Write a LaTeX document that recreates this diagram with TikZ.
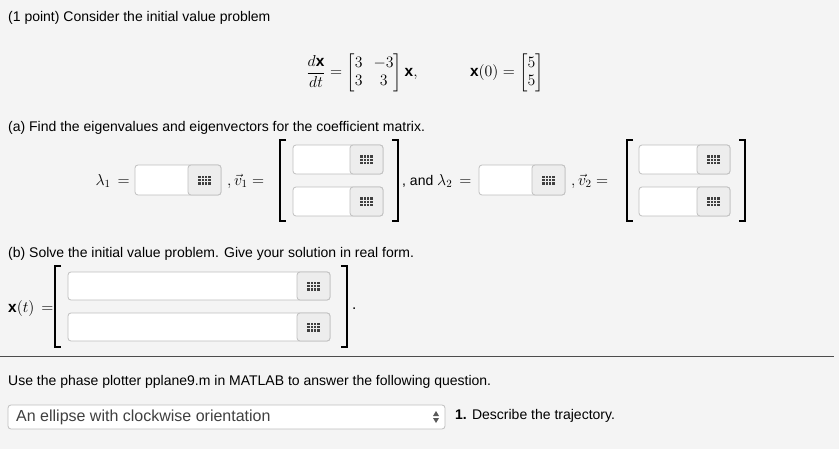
\documentclass[tikz,border=0pt]{standalone}
\usepackage{amsmath}
\usepackage{graphicx}
\usepackage{fontspec}
\setmainfont{Liberation Sans}
\newcommand\gridicon[1]{%
  \foreach \i in {0,1,2,3}{\foreach \j in {0,1,2}{
    \fill[black!75] ($(#1)+(-6.4+\i*3.4,-4.9+\j*3.4)$) rectangle ++(2.4,2.4);}}}
\newcommand\ibox[6]{% name, x1, y1, x2, y2, button width
  \draw[boxline,fill=white] (#2,-#3) rectangle (#4,-#5);
  \draw[boxline,fill=btn] ({#4-#6},-#3) rectangle (#4,-#5);
  \coordinate (#1) at ({#4-#6/2},{-(#3+#5)/2});
  \gridicon{#1}}
\newcommand\brk[4]{% left x, right x, top y, bottom y
  \draw[line width=1.3pt] ({#1+6},-#3) -- (#1,-#3) -- (#1,-#4) -- ({#1+6},-#4);
  \draw[line width=1.3pt] ({#2-6},-#3) -- (#2,-#3) -- (#2,-#4) -- ({#2-6},-#4);}
\newcommand\mscale[1]{\scalebox{1.1}{#1}}
\usetikzlibrary{calc}
\definecolor{bg}{HTML}{F4F4F4}
\definecolor{btn}{HTML}{EDEDED}
\tikzset{x=1pt,y=1pt,
  boxline/.style={draw=black!25,line width=0.8pt,rounded corners=3pt},
  txt/.style={anchor=west,inner sep=0pt,font=\fontsize{14}{16}\selectfont},
  mth/.style={inner sep=0pt,font=\fontsize{14}{16}\selectfont}}
\begin{document}
\begin{tikzpicture}
\fill[bg] (0,0) rectangle (839,-449);
\useasboundingbox (0,0) rectangle (839,-449);
\node[txt] (t1) at (8,-18) {(1 point) Consider the initial value problem};
\node[mth] (eq1) at (362,-73) {\mscale{$\dfrac{d\mathbf{x}}{dt}=\begin{bmatrix}3&-3\\3&3\end{bmatrix}\mathbf{x},$}};
\node[mth] (eq2) at (507,-73) {\mscale{$\mathbf{x}(0)=\begin{bmatrix}5\\5\end{bmatrix}$}};
\node[txt] (ta) at (8,-128) {(a) Find the eigenvalues and eigenvectors for the coefficient matrix.};
\node[mth,anchor=east] (l1) at (130,-181) {\mscale{$\lambda_1\,=$}};
\ibox{b1}{135}{165}{221}{195}{33}
\node[mth,anchor=west] (v1) at (227,-181) {\mscale{$,\vec{v}_1=$}};
\brk{280}{398}{140}{221}
\ibox{b2}{293}{145}{383}{174}{33}
\ibox{b3}{293}{187}{383}{216}{33}
\node[txt,anchor=west] (l2) at (402,-181) {, and \mscale{$\lambda_2\,=$}};
\ibox{b4}{479}{165}{565}{195}{33}
\node[mth,anchor=west] (v2) at (571,-181) {\mscale{$,\vec{v}_2=$}};
\brk{627}{745}{140}{221}
\ibox{b5}{639}{145}{730}{174}{33}
\ibox{b6}{639}{187}{730}{216}{33}
\node[txt] (tb) at (8,-254) {(b) Solve the initial value problem. Give your solution in real form.};
\node[mth,anchor=west] (xt) at (8,-309) {\mscale{$\mathbf{x}(t)\,=$}};
\brk{55}{347}{266}{347}
\ibox{b7}{68}{272}{330}{300}{33}
\ibox{b8}{68}{313}{330}{341}{33}
\node[mth,anchor=west] (pd) at (352,-309) {\mscale{.}};
\draw[black!70,line width=0.8pt] (0,-356) -- (834,-356);
\node[txt] (tu) at (8,-382) {Use the phase plotter pplane9.m in MATLAB to answer the following question.};
\draw[boxline,fill=white] (8,-405) rectangle (445,-429);
\node[txt,text=black!75,font=\fontsize{16}{18}\selectfont] (dd) at (16,-417) {An ellipse with clockwise orientation};
\coordinate (ar) at (436,-417);
\fill[black!65] ($(ar)+(-3,1)$) -- ($(ar)+(3,1)$) -- ($(ar)+(0,6)$) -- cycle;
\fill[black!65] ($(ar)+(-3,-1)$) -- ($(ar)+(3,-1)$) -- ($(ar)+(0,-6)$) -- cycle;
\node[txt] (q1) at (455,-416) {\textbf{1.} Describe the trajectory.};
\end{tikzpicture}
\end{document}
